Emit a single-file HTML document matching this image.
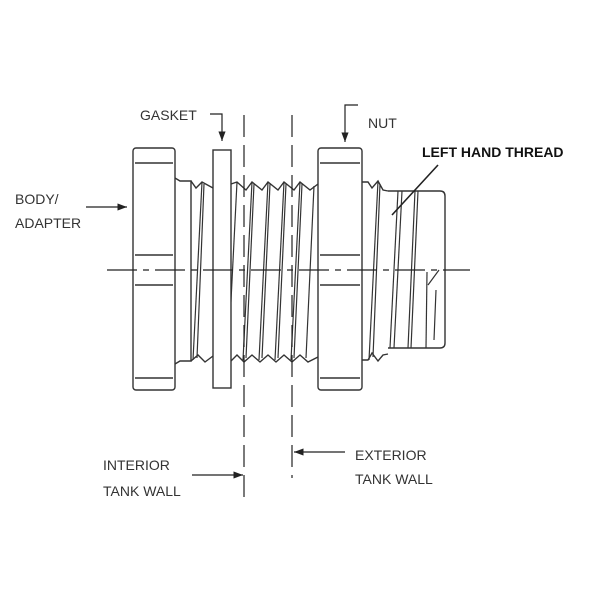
<!DOCTYPE html>
<html><head><style>
body{margin:0;background:#fff}
text{font-family:"Liberation Sans",sans-serif;font-size:14px;fill:#333}
</style></head><body>
<svg width="600" height="600" viewBox="0 0 600 600" xmlns="http://www.w3.org/2000/svg">
<defs><marker id="a" markerWidth="8" markerHeight="6" refX="8" refY="3" orient="auto"><path d="M0,0L8,3L0,6z" fill="#222"/></marker></defs>
<g stroke="#333" stroke-width="1.4" fill="#fff">
<!-- neck -->
<path d="M175,178 L180,181 L191,181 L191,361 L180,361 L175,364"/>
<!-- threads main -->
<path d="M191,181 L196,188 L202,182 L213,188 M231,184 L237,182 L246,190 L252,182 L262,190 L268,182 L278,190 L284,182 L294,190 L300,182 L310,190 L318,184" fill="none"/>
<path d="M191,361 L198,355 L205,362 L213,356 M231,361 L237,355 L244,362 L252,355 L260,362 L268,355 L276,362 L284,355 L292,362 L300,355 L308,362 L318,357" fill="none"/>
<g fill="none" stroke-width="1.2">
<line x1="202" y1="182" x2="193" y2="360"/><line x1="204" y1="184" x2="197" y2="358"/>
<line x1="237" y1="182" x2="228" y2="360"/>
<line x1="252" y1="182" x2="243" y2="360"/><line x1="254" y1="184" x2="246" y2="358"/>
<line x1="268" y1="182" x2="259" y2="360"/><line x1="270" y1="184" x2="262" y2="358"/>
<line x1="284" y1="182" x2="275" y2="360"/><line x1="286" y1="184" x2="278" y2="358"/>
<line x1="300" y1="182" x2="291" y2="360"/><line x1="302" y1="184" x2="294" y2="358"/>
<line x1="314" y1="186" x2="306" y2="358"/>
</g>
<!-- right threads -->
<path d="M362,182 L368,182 L372,188 L378,181 L383,190 L388,191 M362,360 L368,360 L372,353 L378,361 L383,355 L388,354" fill="none"/>
<path d="M388,191 L440,191 Q445,191 445,196 L445,343 Q445,348 440,348 L388,348" />
<g fill="none" stroke-width="1.2">
<line x1="378" y1="181" x2="369" y2="360"/><line x1="380" y1="184" x2="373" y2="357"/>
<line x1="398" y1="191" x2="390" y2="348"/><line x1="402" y1="191" x2="394" y2="348"/>
<line x1="415" y1="191" x2="408" y2="348"/><line x1="418" y1="191" x2="411" y2="348"/>
<line x1="427" y1="272" x2="426" y2="348"/><path d="M428,285 L439,270 M436,290 L434,340"/>
</g>
<!-- body flange -->
<rect x="133" y="148" width="42" height="242" rx="3"/>
<line x1="135" y1="163" x2="173" y2="163"/><line x1="135" y1="255" x2="173" y2="255"/>
<line x1="135" y1="285" x2="173" y2="285"/><line x1="135" y1="378" x2="173" y2="378"/>
<!-- gasket -->
<rect x="213" y="150" width="18" height="238"/>
<!-- nut -->
<rect x="318" y="148" width="44" height="242" rx="3"/>
<line x1="320" y1="163" x2="360" y2="163"/><line x1="320" y1="255" x2="360" y2="255"/>
<line x1="320" y1="285" x2="360" y2="285"/><line x1="320" y1="378" x2="360" y2="378"/>
</g>
<g stroke="#222" stroke-width="1.2" fill="none">
<line x1="107" y1="270" x2="470" y2="270" stroke-dasharray="30,6,6,6"/>
<line x1="244" y1="115" x2="244" y2="500" stroke-dasharray="22,8"/>
<line x1="292" y1="115" x2="292" y2="478" stroke-dasharray="22,8"/>
<line x1="86" y1="207" x2="127" y2="207" marker-end="url(#a)"/>
<path d="M210,114 L222,114 L222,141" marker-end="url(#a)"/>
<path d="M358,105 L345,105 L345,142" marker-end="url(#a)"/>
<line x1="438" y1="165" x2="392" y2="215" stroke-width="1.6"/>
<line x1="192" y1="475" x2="243" y2="475" marker-end="url(#a)"/>
<line x1="345" y1="452" x2="294" y2="452" marker-end="url(#a)"/>
</g>
<text x="140" y="120">GASKET</text>
<text x="368" y="128">NUT</text>
<text x="422" y="157" style="font-weight:bold;fill:#111">LEFT HAND THREAD</text>
<text x="15" y="204">BODY/</text>
<text x="15" y="228">ADAPTER</text>
<text x="103" y="470">INTERIOR</text>
<text x="103" y="496">TANK WALL</text>
<text x="355" y="460">EXTERIOR</text>
<text x="355" y="484">TANK WALL</text>
</svg>
</body></html>
